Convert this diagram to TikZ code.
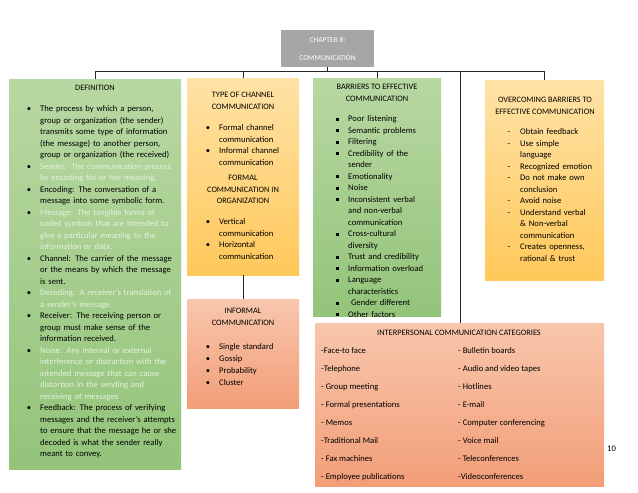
\documentclass[tikz,border=0pt]{standalone}
\usepackage{fontspec}
\setmainfont{Carlito}
\usepackage{enumitem}
\definecolor{gtop}{HTML}{B8D8A2}\definecolor{gbot}{HTML}{93C47A}
\definecolor{otop}{HTML}{FFE2A6}\definecolor{obot}{HTML}{FFC85A}
\definecolor{stop}{HTML}{F8C6AC}\definecolor{sbot}{HTML}{F29E78}
\definecolor{pale}{HTML}{E6F2DE}
\definecolor{chap}{HTML}{A6A6A6}
\tikzset{
 boxg/.style={anchor=north west,inner sep=0,top color=gtop,bottom color=gbot,draw=none},
 boxo/.style={anchor=north west,inner sep=0,top color=otop,bottom color=obot,draw=none},
 boxs/.style={anchor=north west,inner sep=0,top color=stop,bottom color=sbot,draw=none},
 ttl/.style={align=center,inner sep=0,font=\fontsize{8.3}{11.5}\selectfont},
 lst/.style={anchor=north west,inner sep=0,align=left,font=\fontsize{8.6}{11.5}\selectfont},
 conn/.style={draw=black!85,line width=1pt},
}
\newlist{bulletlist}{itemize}{1}
\setlist[bulletlist]{label=\textbullet,leftmargin=14pt,labelsep=9pt,itemsep=0pt,topsep=0pt,parsep=0pt,partopsep=0pt}
\newlist{squarelist}{itemize}{1}
\setlist[squarelist]{label=\raisebox{1pt}{\rule{3pt}{3pt}},leftmargin=12pt,labelsep=9pt,itemsep=0pt,topsep=0pt,parsep=0pt,partopsep=0pt}
\newlist{dashlist}{itemize}{1}
\setlist[dashlist]{label=-,leftmargin=13pt,labelsep=10pt,itemsep=0pt,topsep=0pt,parsep=0pt,partopsep=0pt}
\begin{document}
\begin{tikzpicture}[x=1pt,y=-1pt]
\useasboundingbox[fill=white] (0,0) rectangle (638,493);
% boxes
\node[anchor=north west,inner sep=0,fill=chap,minimum width=93pt,minimum height=37pt] (ch) at (281,30) {};
\node[text=white,font=\fontsize{7.5}{9}\selectfont] (cht1) at (327.5,40) {CHAPTER 8:};
\node[text=white,font=\fontsize{7.5}{9}\selectfont] (cht2) at (327.5,58) {COMMUNICATION};
\node[boxg,minimum width=172pt,minimum height=390pt] (def) at (9,79) {};
\node[boxo,minimum width=112pt,minimum height=197pt] (typ) at (187,78) {};
\node[boxs,minimum width=112pt,minimum height=109pt] (inf) at (187,299) {};
\node[boxg,minimum width=128pt,minimum height=238pt] (bar) at (313,78) {};
\node[boxo,minimum width=119pt,minimum height=200pt] (ovc) at (485,80) {};
\node[boxs,minimum width=289pt,minimum height=163pt] (ipc) at (315,323) {};
% connectors
\coordinate (bus) at (0,71);
\coordinate (ipx) at (460,323);
\draw[conn] (ch.south) -- (ch.south|-bus);
\draw[conn] (def.north) -- (def.north|-bus) -- (ovc.north|-bus) -- (ovc.north);
\draw[conn] (typ.north|-bus) -- (typ.north);
\draw[conn] (bar.north|-bus) -- (bar.north);
\draw[conn] (ipx|-bus) -- (ipx);
\draw[conn] (typ.south) -- (inf.north);
% definition
\node[ttl] (t1) at (95,88) {DEFINITION};
\node[lst,text width=150pt] (l1) at (26,100) {\begin{bulletlist}
\item The process by which a person, group or organization (the sender) transmits some type of information (the message) to another person, group or organization (the received)
\item {\color{pale} Sender: The communication process by encoding his or her meaning.}
\item Encoding: The conversation of a message into some symbolic form.
\item {\color{pale} Message: The tangible forms of coded symbols that are intended to give a particular meaning to the information or data.}
\item Channel: The carrier of the message or the means by which the message is sent.
\item {\color{pale} Decoding: A receiver's translation of a sender's message.}
\item Receiver: The receiving person or group must make sense of the information received.
\item {\color{pale} Noise: Any internal or external interference or distraction with the intended message that can cause distortion in the sending and receiving of messages}
\item Feedback: The process of verifying messages and the receiver's attempts to ensure that the message he or she decoded is what the sender really meant to convey.
\end{bulletlist}};
% type
\node[ttl] (t2) at (243,101) {TYPE OF CHANNEL\\COMMUNICATION};
\node[lst,text width=80pt] (l2) at (205,119) {\begin{bulletlist}
\item Formal channel communication
\item Informal channel communication
\end{bulletlist}};
\node[ttl] (t3) at (243,189.5) {FORMAL\\COMMUNICATION IN\\ORGANIZATION};
\node[lst,text width=80pt] (l3) at (205,213) {\begin{bulletlist}
\item Vertical communication
\item Horizontal communication
\end{bulletlist}};
% informal
\node[ttl] (t4) at (243,317) {INFORMAL\\COMMUNICATION};
\node[lst,text width=80pt,font=\fontsize{8.6}{12}\selectfont] (l4) at (205,337) {\begin{bulletlist}
\item Single standard
\item Gossip
\item Probability
\item Cluster
\end{bulletlist}};
% barriers
\node[ttl] (t5) at (377,93) {BARRIERS TO EFFECTIVE\\COMMUNICATION};
\node[lst,text width=92pt] (l5) at (336,110) {\begin{squarelist}
\item Poor listening
\item Semantic problems
\item Filtering
\item Credibility of the sender
\item Emotionality
\item Noise
\item Inconsistent verbal and non-verbal communication
\item Cross-cultural diversity
\item Trust and credibility
\item Information overload
\item Language characteristics
\item \ Gender different
\item Other factors
\end{squarelist}};
% overcoming
\node[ttl] (t6) at (545,106) {OVERCOMING BARRIERS TO\\EFFECTIVE COMMUNICATION};
\node[lst,text width=85pt] (l6) at (507,123) {\begin{dashlist}
\item Obtain feedback
\item Use simple language
\item Recognized emotion
\item Do not make own conclusion
\item Avoid noise
\item Understand verbal \& Non-verbal communication
\item Creates openness, rational \& trust
\end{dashlist}};
% interpersonal
\node[ttl] (t7) at (459,333) {INTERPERSONAL COMMUNICATION CATEGORIES};
\foreach \a/\b [count=\i from 0] in {-Face-to face/- Bulletin boards,-Telephone/- Audio and video tapes,- Group meeting/- Hotlines,- Formal presentations/- E-mail,- Memos/- Computer conferencing,-Traditional Mail/- Voice mail,- Fax machines/- Teleconferences,- Employee publications/-Videoconferences}{
 \node[anchor=west,inner sep=0,font=\fontsize{8.6}{10}\selectfont] (ipl\i) at (321,351+18*\i) {\a};
 \node[anchor=west,inner sep=0,font=\fontsize{8.6}{10}\selectfont] (ipr\i) at (458,351+18*\i) {\b};
}
\node[anchor=west,inner sep=0,font=\fontsize{8.6}{10}\selectfont] (pg) at (607,449) {10};
\end{tikzpicture}
\end{document}
